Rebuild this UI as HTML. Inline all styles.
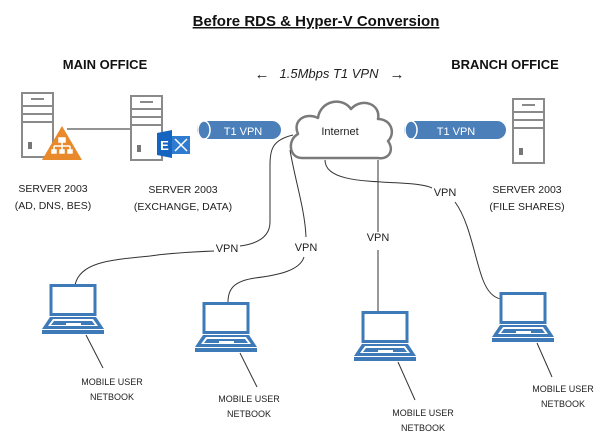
<!DOCTYPE html>
<html><head><meta charset="utf-8"><style>
html,body{margin:0;padding:0;background:#fff;}
svg{display:block;font-family:"Liberation Sans",sans-serif;}
</style></head><body>
<svg width="600" height="438" viewBox="0 0 600 438" xmlns="http://www.w3.org/2000/svg">
<defs>
<g id="srv">
<rect x="0" y="0" width="31" height="64" fill="#fff" stroke="#8a8a8a" stroke-width="2"/>
<line x1="9" y1="6" x2="22" y2="6" stroke="#8a8a8a" stroke-width="2"/>
<line x1="0" y1="13" x2="31" y2="13" stroke="#8a8a8a" stroke-width="2"/>
<line x1="0" y1="21" x2="31" y2="21" stroke="#8a8a8a" stroke-width="2"/>
<line x1="0" y1="29" x2="31" y2="29" stroke="#8a8a8a" stroke-width="2"/>
<rect x="6" y="49" width="4" height="7" fill="#777"/>
</g>
<g id="lap">
<rect x="9" y="1.5" width="44" height="29" fill="#fff" stroke="#3e79b8" stroke-width="3"/>
<polygon points="8,33 54,33 62,45 0,45" fill="#3e79b8"/>
<polygon points="11,35 51,35 56,42 6,42" fill="#fff"/>
<polygon points="12,37 50,37 53,41 9,41" fill="#3e79b8"/>
<rect x="24" y="39" width="15" height="2" fill="#fff"/>
<rect x="0" y="46" width="62" height="4" fill="#3e79b8"/>
</g>
</defs>

<text x="316" y="26" font-size="15" font-weight="bold" text-anchor="middle" fill="#111" text-decoration="underline">Before RDS &amp; Hyper-V Conversion</text>
<text x="105" y="69" font-size="13" font-weight="bold" text-anchor="middle" fill="#111">MAIN OFFICE</text>
<text x="505" y="69" font-size="13" font-weight="bold" text-anchor="middle" fill="#111">BRANCH OFFICE</text>
<text x="262" y="79" font-size="15" font-weight="bold" text-anchor="middle" fill="#222">←</text>
<text x="329" y="78" font-size="13" font-style="italic" text-anchor="middle" fill="#222">1.5Mbps T1 VPN</text>
<text x="397" y="79" font-size="15" font-weight="bold" text-anchor="middle" fill="#222">→</text>

<!-- servers -->
<line x1="67" y1="129" x2="131" y2="129" stroke="#555" stroke-width="1.2"/>
<use href="#srv" x="22" y="93"/>
<use href="#srv" x="131" y="96"/>
<use href="#srv" x="513" y="99"/>
<polygon points="62,126 82,160 42,160" fill="#e8892c"/>
<g stroke="#fff" stroke-width="1.5" fill="#fff">
<rect x="59" y="138" width="6" height="4"/>
<line x1="62" y1="142" x2="62" y2="146" fill="none"/>
<line x1="54" y1="146" x2="70" y2="146" fill="none"/>
<line x1="54" y1="146" x2="54" y2="150" fill="none"/>
<line x1="62" y1="146" x2="62" y2="150" fill="none"/>
<line x1="70" y1="146" x2="70" y2="150" fill="none"/>
<rect x="52" y="150" width="4" height="3"/><rect x="60" y="150" width="4" height="3"/><rect x="68" y="150" width="4" height="3"/>
</g>
<rect x="172" y="136" width="18" height="18" fill="#2e7bd0"/>
<path d="M175 139 L187 151 M187 139 L175 151" stroke="#fff" stroke-width="1.5"/>
<polygon points="157,133 172,130 172,158 157,155" fill="#1565c0"/>
<text x="164.5" y="150" font-size="13" font-weight="bold" fill="#fff" text-anchor="middle">E</text>

<g font-size="10.5" text-anchor="middle" fill="#222">
<text x="53" y="192">SERVER 2003</text>
<text x="53" y="209">(AD, DNS, BES)</text>
<text x="183" y="193">SERVER 2003</text>
<text x="183" y="210">(EXCHANGE, DATA)</text>
<text x="527" y="193">SERVER 2003</text>
<text x="527" y="210">(FILE SHARES)</text>
</g>

<!-- pipes -->
<rect x="197" y="121" width="84" height="18" rx="9" fill="#4a7fba"/>
<ellipse cx="204" cy="130" rx="6" ry="9" fill="#4a7fba" stroke="#fff" stroke-width="1.5"/>
<text x="243" y="135" font-size="11" fill="#fff" text-anchor="middle">T1 VPN</text>
<rect x="404" y="121" width="102" height="18" rx="9" fill="#4a7fba"/>
<ellipse cx="411" cy="130" rx="6" ry="9" fill="#4a7fba" stroke="#fff" stroke-width="1.5"/>
<text x="456" y="135" font-size="11" fill="#fff" text-anchor="middle">T1 VPN</text>

<!-- connectors -->
<g fill="none" stroke="#333" stroke-width="1">
<path d="M293 135 C272 140 270 150 270 165 L270 222 C270 238 255 244 240 246"/>
<path d="M214 251 C190 252 170 253 150 256 C110 260 80 262 75 285"/>
<path d="M290 150 C295 180 305 210 306 237"/>
<path d="M304 257 C300 270 280 275 255 278 C235 281 228 288 228 302"/>
<path d="M378 160 L378 232"/>
<path d="M378 250 L378 311"/>
<path d="M325 160 C325 180 360 181 400 183 C420 184 428 186 432 188"/>
<path d="M455 202 C470 222 475 260 483 280 C488 293 495 298 501 299"/>
<path d="M86 335 L103 368"/>
<path d="M240 353 L257 387"/>
<path d="M398 362 L415 400"/>
<path d="M537 343 L552 377"/>
</g>
<g font-size="11" fill="#222" text-anchor="middle">
<text x="227" y="252">VPN</text>
<text x="306" y="251">VPN</text>
<text x="378" y="241">VPN</text>
<text x="445" y="196">VPN</text>
</g>

<!-- cloud -->
<path d="M302 158 C289 158 287 140 298 134 C292 120 306 112 318 118 C320 101 342 96 351 109 C362 97 381 104 378 119 C391 119 396 133 388 141 C395 151 388 160 378 158 Z" fill="#fff" stroke="#7a7a7a" stroke-width="2.5" stroke-linejoin="round"/>
<text x="340" y="135" font-size="11" fill="#222" text-anchor="middle">Internet</text>

<use href="#lap" x="42" y="284"/>
<use href="#lap" x="195" y="302"/>
<use href="#lap" x="354" y="311"/>
<use href="#lap" x="492" y="292"/>

<g font-size="9" fill="#222" text-anchor="middle">
<text x="112" y="385">MOBILE USER</text><text x="112" y="400">NETBOOK</text>
<text x="249" y="402">MOBILE USER</text><text x="249" y="417">NETBOOK</text>
<text x="423" y="416">MOBILE USER</text><text x="423" y="431">NETBOOK</text>
<text x="563" y="392">MOBILE USER</text><text x="563" y="407">NETBOOK</text>
</g>
</svg>
</body></html>
